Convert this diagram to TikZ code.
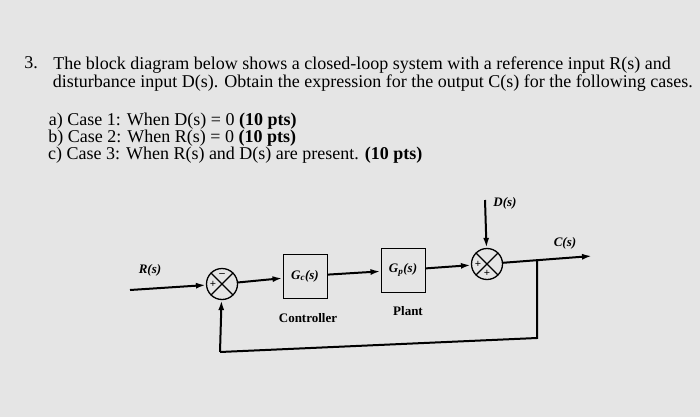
\documentclass[tikz,border=0pt]{standalone}
\usepackage{fontspec}
\setmainfont{Liberation Serif}
\usetikzlibrary{arrows.meta}
\begin{document}
\begin{tikzpicture}[x=1pt,y=-1pt,
  txt/.style={anchor=base west,font=\fontsize{18}{20}\selectfont,inner sep=0},
  blk/.style={draw,line width=1pt,minimum width=44pt,minimum height=44pt,inner sep=1pt,font=\fontsize{13}{14}\selectfont\itshape\bfseries},
  sumj/.style={draw,line width=1.3pt,circle,minimum size=31pt,inner sep=0,path picture={
    \draw[line width=1.3pt] (path picture bounding box.north west)--(path picture bounding box.south east)
                 (path picture bounding box.north east)--(path picture bounding box.south west);}},
  sig/.style={line width=2pt,-{Latex[length=10pt,width=6pt]}},
  lab/.style={font=\fontsize{13}{14}\selectfont\itshape\bfseries},
  sgn/.style={font=\fontsize{11}{12}\selectfont\bfseries,inner sep=0},
  captxt/.style={font=\fontsize{13}{14}\selectfont\bfseries}]
\fill[black!10] (0,0) rectangle (700,417);
\useasboundingbox (0,0) rectangle (700,417);
\begin{scope}[rotate=-1.5]
\node[txt] (n3) at (26,68) {3.};
\node[txt] (l1) at (55,68) {The block diagram below shows a closed-loop system with a reference input R(s) and};
\node[txt] (l2) at (55,86) {disturbance input D(s). Obtain the expression for the output C(s) for the following cases.};
\node[txt] (la) at (52,124) {a) Case 1: When D(s) = 0 \textbf{(10 pts)}};
\node[txt] (lb) at (52,141) {b) Case 2: When R(s) = 0 \textbf{(10 pts)}};
\node[txt] (lc) at (52,158) {c) Case 3: When R(s) and D(s) are present. \textbf{(10 pts)}};
\end{scope}
\node[sumj] (s1) at (222,284) {};
\node[blk] (gc) at (305,276) {G\textsubscript{c}(s)};
\node[blk] (gp) at (403,270) {G\textsubscript{p}(s)};
\node[sumj] (s2) at (487,264) {};
\node[sgn] (p1) at ([xshift=-9pt]s1.center) {+};
\node[sgn] (m1) at ([yshift=9pt]s1.center) {--};
\node[sgn] (p2) at ([yshift=-9pt]s2.center) {+};
\node[sgn] (p3) at ([xshift=-9pt]s2.center) {+};
\coordinate (rin) at (130,290);
\coordinate (din) at (485,200);
\coordinate (br) at (537,259);
\coordinate (cout) at (592,256);
\coordinate (fb1) at (537,338);
\coordinate (fb2) at (220,352);
\draw[sig] (rin) -- (s1);
\draw[sig] (s1) -- (gc);
\draw[sig] (gc) -- (gp);
\draw[sig] (gp) -- (s2);
\draw[sig] (din) -- (s2);
\draw[sig] (s2) -- (cout);
\draw[line width=2pt] (br) -- (fb1) -- (fb2);
\draw[sig] (fb2) -- (s1);
\node[lab] (rl) at (150,270) {R(s)};
\node[lab] (dl) at (505,203) {D(s)};
\node[lab] (cl) at (565,243) {C(s)};
\node[captxt] (ct) at (308,318) {Controller};
\node[captxt] (pt) at (408,311) {Plant};
\end{tikzpicture}
\end{document}
